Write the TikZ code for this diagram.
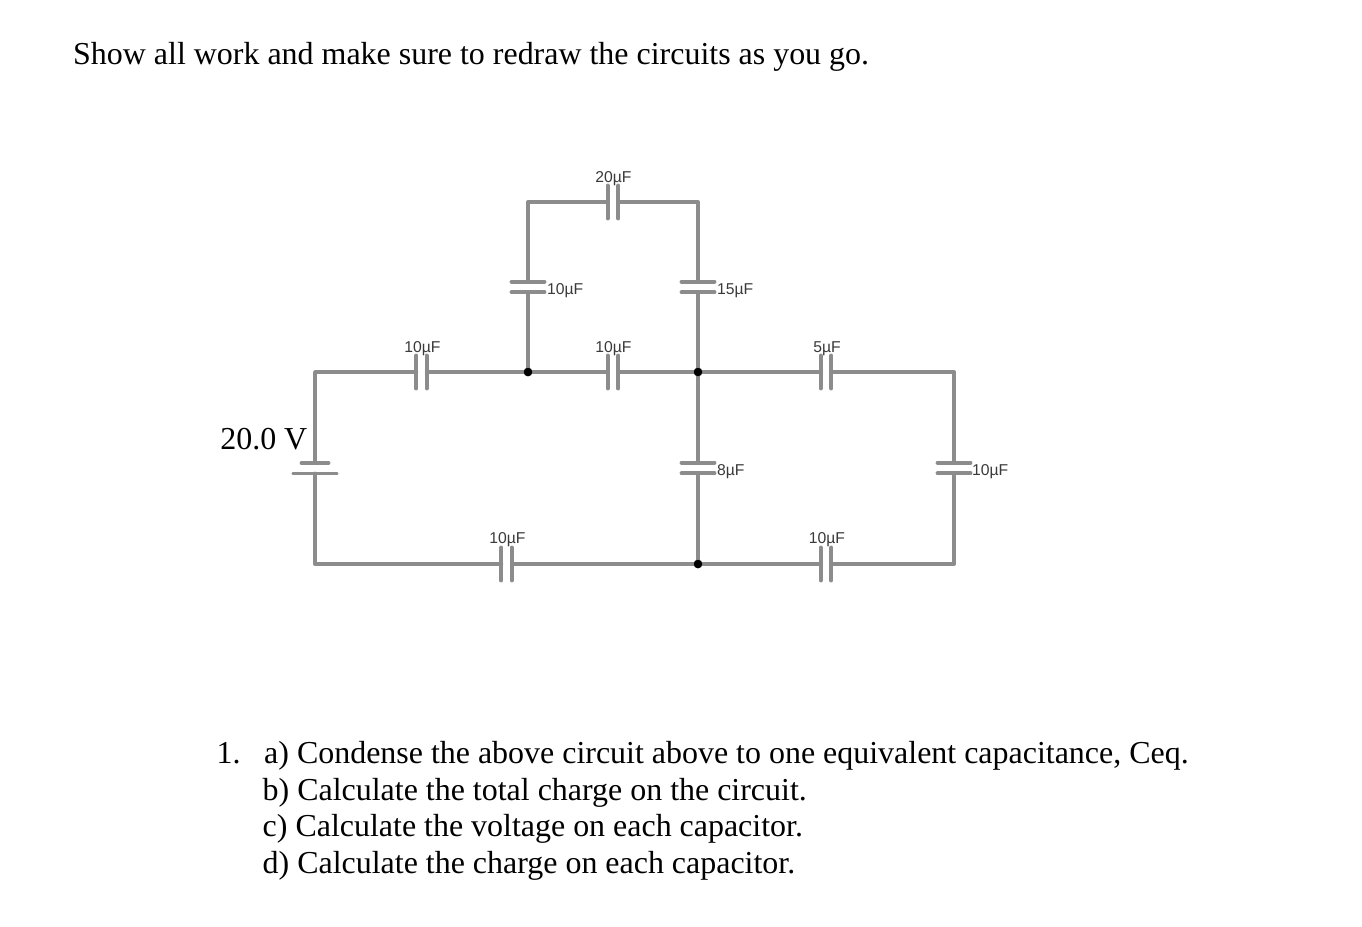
\documentclass[tikz,border=0pt]{standalone}
\usepackage{fontspec}
\setmainfont{Liberation Serif}
\newfontfamily\labelfont{Liberation Sans}
\definecolor{wire}{HTML}{8C8C8C}
\definecolor{lab}{HTML}{3A3A3A}
\tikzset{
  wireline/.style={draw=wire,line width=3.9pt,line cap=round,line join=round},
  platebase/.style={rectangle,inner sep=0pt,outer sep=0pt},
  hcap/.style={platebase,minimum width=10.5pt,minimum height=33pt},
  vcap/.style={platebase,minimum width=33pt,minimum height=10.5pt},
  dotnode/.style={circle,fill=black,inner sep=0pt,minimum size=8.5pt},
  caplabel/.style={font=\labelfont\fontsize{15.7}{18}\selectfont,text=lab,inner sep=0pt},
  prose/.style={font=\fontsize{31.95}{36}\selectfont,anchor=base west,inner sep=0pt,text=black},
  voltlabel/.style={font=\fontsize{31.95}{36}\selectfont,anchor=base east,inner sep=0pt,text=black}
}
\begin{document}
\begin{tikzpicture}[x=1pt,y=-1pt]
\useasboundingbox (0,0) rectangle (1362,926);
\fill[white] (0,0) rectangle (1362,926);
% corners
\coordinate (tl) at (315,372);
\coordinate (bl) at (315,564);
\coordinate (tr) at (954,372);
\coordinate (br) at (954,564);
\coordinate (ul) at (528,202);
\coordinate (ur) at (698,202);
% junctions
\node[dotnode] (j1) at (528,372) {};
\node[dotnode] (j2) at (698,372) {};
\node[dotnode] (j3) at (698,564) {};
% capacitors
\node[hcap] (c1) at (421.5,372) {};
\node[hcap] (c2) at (613,372) {};
\node[hcap] (c3) at (826,372) {};
\node[hcap] (c4) at (613,202) {};
\node[hcap] (c5) at (506.5,564) {};
\node[hcap] (c6) at (826,564) {};
\node[vcap] (c7) at (528,287) {};
\node[vcap] (c8) at (698,287) {};
\node[vcap] (c9) at (698,468) {};
\node[vcap] (c10) at (954,468) {};
% battery
\node[platebase,minimum width=27pt,minimum height=0pt] (bp) at (315,463) {};
\node[platebase,minimum width=43pt,minimum height=0pt] (bn) at (315,473.5) {};
% wires
\draw[wireline] (bp.center) -- (tl) -- (c1.west);
\draw[wireline] (c1.east) -- (j1) -- (c2.west);
\draw[wireline] (c2.east) -- (j2) -- (c3.west);
\draw[wireline] (c3.east) -- (tr) -- (c10.north);
\draw[wireline] (c10.south) -- (br) -- (c6.east);
\draw[wireline] (c6.west) -- (j3) -- (c5.east);
\draw[wireline] (c5.west) -- (bl) -- (bn.center);
\draw[wireline] (j1) -- (c7.south);
\draw[wireline] (c7.north) -- (ul) -- (c4.west);
\draw[wireline] (c4.east) -- (ur) -- (c8.north);
\draw[wireline] (c8.south) -- (j2);
\draw[wireline] (j2) -- (c9.north);
\draw[wireline] (c9.south) -- (j3);
% plates
\foreach \c in {c1,c2,c3,c4,c5,c6}{
  \draw[wireline] (\c.north west) -- (\c.south west);
  \draw[wireline] (\c.north east) -- (\c.south east);
}
\foreach \c in {c7,c8,c9,c10}{
  \draw[wireline] (\c.north west) -- (\c.north east);
  \draw[wireline] (\c.south west) -- (\c.south east);
}
\draw[wireline] (bp.west) -- (bp.east);
\draw[wireline] (bn.west) -- (bn.east);
% junction dots on top
\node[dotnode] at (j1) {};
\node[dotnode] at (j2) {};
\node[dotnode] at (j3) {};
% capacitor labels
\node[caplabel] (l1) at (422.5,349) {10µF};
\node[caplabel] (l2) at (613.5,349) {10µF};
\node[caplabel] (l3) at (827,349) {5µF};
\node[caplabel] (l4) at (613.5,179) {20µF};
\node[caplabel] (l5) at (507.5,540) {10µF};
\node[caplabel] (l6) at (827,540) {10µF};
\node[caplabel,anchor=west] (l7) at (547,291) {10µF};
\node[caplabel,anchor=west] (l8) at (717,291) {15µF};
\node[caplabel,anchor=west] (l9) at (717,472) {8µF};
\node[caplabel,anchor=west] (l10) at (972,472) {10µF};
% text
\node[prose] (title) at (73,64) {Show all work and make sure to redraw the circuits as you go.};
\node[voltlabel] (volt) at (307.5,449) {20.0 V};
\node[prose] (n1) at (216.5,763) {1.};
\node[prose] (qa) at (264,763) {a) Condense the above circuit above to one equivalent capacitance, Ceq.};
\node[prose] (qb) at (262.5,800) {b) Calculate the total charge on the circuit.};
\node[prose] (qc) at (262.5,836) {c) Calculate the voltage on each capacitor.};
\node[prose] (qd) at (262.5,873) {d) Calculate the charge on each capacitor.};
\end{tikzpicture}
\end{document}
